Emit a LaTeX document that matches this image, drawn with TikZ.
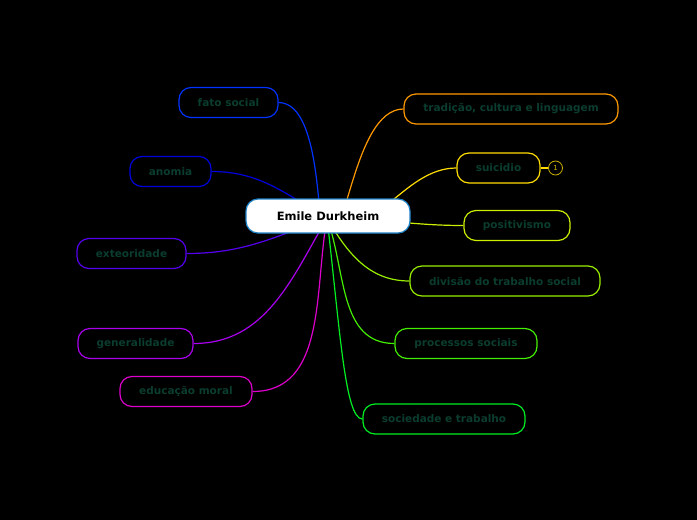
\documentclass[tikz,border=0pt]{standalone}
\usepackage{fontspec}
\setmainfont{DejaVu Sans}
\begin{document}
\begin{tikzpicture}[x=1pt,y=-1pt,
  topic/.style={draw=#1, line width=1.2pt, rounded corners=12pt, minimum height=30pt, text=tx, font=\bfseries\fontsize{10.5}{12}\selectfont, inner sep=0pt},
  edge/.style={draw=#1, line width=1.2pt}]
\definecolor{tx}{HTML}{0B3D2E}
\fill[black] (0,0) rectangle (697,520);
\definecolor{c1}{HTML}{0033FF}\definecolor{c2}{HTML}{0000DD}\definecolor{c3}{HTML}{5500EE}
\definecolor{c4}{HTML}{AA00EE}\definecolor{c5}{HTML}{DD00CC}\definecolor{c6}{HTML}{FF9900}
\definecolor{c7}{HTML}{FFDD00}\definecolor{c8}{HTML}{CCEE00}\definecolor{c9}{HTML}{99EE00}
\definecolor{c10}{HTML}{44EE00}\definecolor{c11}{HTML}{00EE22}
\node[topic=c1, minimum width=99pt] (n1) at (228.5,102.5) {fato social};
\node[topic=c2, minimum width=81pt] (n2) at (170.5,171.5) {anomia};
\node[topic=c3, minimum width=109pt] (n3) at (131.5,253.5) {exteoridade};
\node[topic=c4, minimum width=115pt] (n4) at (135.5,343.5) {generalidade};
\node[topic=c5, minimum width=132pt] (n5) at (186,391.5) {educação moral};
\node[topic=c6, minimum width=214pt] (n6) at (511,109) {tradição, cultura e linguagem};
\node[topic=c7, minimum width=83pt] (n7) at (498.5,168) {suicidio};
\node[topic=c8, minimum width=106pt] (n8) at (517,225.5) {positivismo};
\node[topic=c9, minimum width=190pt] (n9) at (505,281) {divisão do trabalho social};
\node[topic=c10, minimum width=142pt] (n10) at (466,343.5) {processos sociais};
\node[topic=c11, minimum width=162pt] (n11) at (444,419) {sociedade e trabalho};
\node[circle, draw=c7!80!black, line width=0.8pt, minimum size=14pt, inner sep=0pt, text=c7!80!black, font=\fontsize{7}{8}\selectfont] (b) at (555.5,168) {1};
\draw[edge=c7] (n7.east) -- (b.west);
\coordinate (c) at (327,218);
\draw[edge=c1] (c) to[out=-105, in=0] (n1.east);
\draw[edge=c2] (c) to[out=150, in=0] (n2.east);
\draw[edge=c3] (c) to[out=200, in=0] (n3.east);
\draw[edge=c4] (c) to[out=-120, in=0] (n4.east);
\draw[edge=c5] (c) to[out=-100, in=0] (n5.east);
\draw[edge=c6] (c) to[out=-70, in=180] (n6.west);
\draw[edge=c7] (c) to[out=-30, in=180] (n7.west);
\draw[edge=c8] (c) to[out=0, in=180] (n8.west);
\draw[edge=c9] (c) to[out=-60, in=180] (n9.west);
\draw[edge=c10] (c) to[out=-70, in=180] (n10.west);
\draw[edge=c11] (c) .. controls (340,330) and (345,419) .. (n11.west);
\node[draw={rgb,255:red,30;green,130;blue,200}, line width=1.2pt, fill=white, rounded corners=12pt, minimum width=164pt, minimum height=34pt, inner sep=0pt, font=\bfseries\fontsize{11.5}{13}\selectfont] (ctr) at (328,216) {Emile Durkheim};
\end{tikzpicture}
\end{document}
